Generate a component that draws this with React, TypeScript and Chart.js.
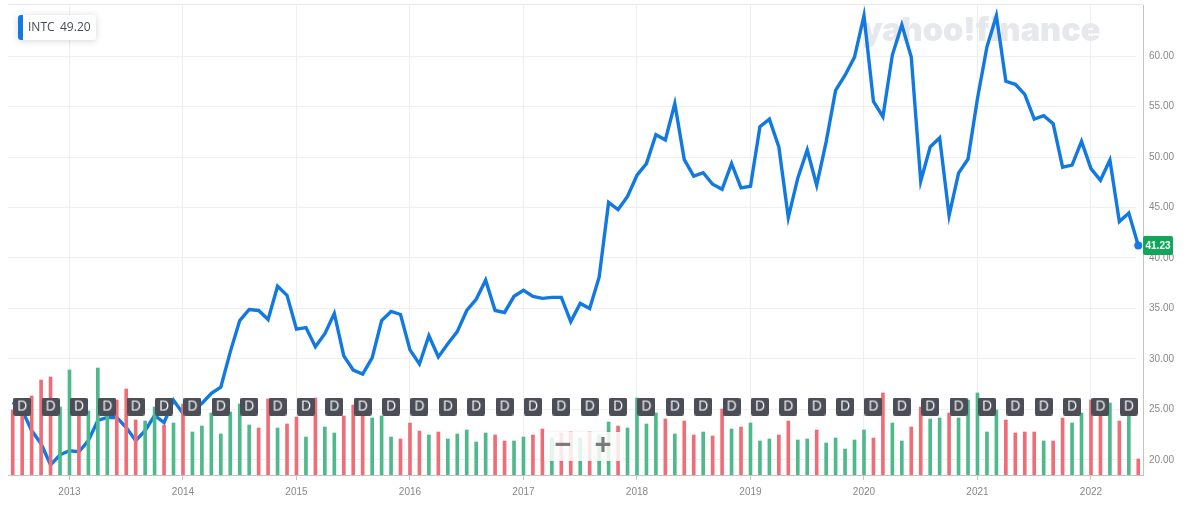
import { useEffect, useRef } from 'react';
import { Chart, registerables } from 'chart.js';

Chart.register(...registerables);

const ticker = 'INTC';
const legendPrice = '49.20';

const months = [
  '2012-07', '2012-08', '2012-09', '2012-10', '2012-11', '2012-12', '2013-01', '2013-02', '2013-03', '2013-04', '2013-05', '2013-06',
  '2013-07', '2013-08', '2013-09', '2013-10', '2013-11', '2013-12', '2014-01', '2014-02', '2014-03', '2014-04', '2014-05', '2014-06',
  '2014-07', '2014-08', '2014-09', '2014-10', '2014-11', '2014-12', '2015-01', '2015-02', '2015-03', '2015-04', '2015-05', '2015-06',
  '2015-07', '2015-08', '2015-09', '2015-10', '2015-11', '2015-12', '2016-01', '2016-02', '2016-03', '2016-04', '2016-05', '2016-06',
  '2016-07', '2016-08', '2016-09', '2016-10', '2016-11', '2016-12', '2017-01', '2017-02', '2017-03', '2017-04', '2017-05', '2017-06',
  '2017-07', '2017-08', '2017-09', '2017-10', '2017-11', '2017-12', '2018-01', '2018-02', '2018-03', '2018-04', '2018-05', '2018-06',
  '2018-07', '2018-08', '2018-09', '2018-10', '2018-11', '2018-12', '2019-01', '2019-02', '2019-03', '2019-04', '2019-05', '2019-06',
  '2019-07', '2019-08', '2019-09', '2019-10', '2019-11', '2019-12', '2020-01', '2020-02', '2020-03', '2020-04', '2020-05', '2020-06',
  '2020-07', '2020-08', '2020-09', '2020-10', '2020-11', '2020-12', '2021-01', '2021-02', '2021-03', '2021-04', '2021-05', '2021-06',
  '2021-07', '2021-08', '2021-09', '2021-10', '2021-11', '2021-12', '2022-01', '2022-02', '2022-03', '2022-04', '2022-05', '2022-06',
];

const closes = [
  25.7, 24.9, 22.9, 21.6, 19.5, 20.5, 20.9, 20.8, 21.9, 23.9, 24.2, 24.2,
  23.2, 21.9, 22.9, 24.4, 23.7, 25.9, 24.6, 25.0, 25.6, 26.6, 27.2, 30.7,
  33.8, 34.9, 34.8, 33.9, 37.2, 36.3, 32.95, 33.1, 31.2, 32.5, 34.5, 30.3,
  28.9, 28.5, 30.1, 33.8, 34.7, 34.4, 30.9, 29.5, 32.3, 30.2, 31.5, 32.7,
  34.8, 35.9, 37.8, 34.8, 34.6, 36.2, 36.8, 36.2, 36.0, 36.1, 36.1, 33.7,
  35.5, 35.0, 38.1, 45.5, 44.8, 46.1, 48.2, 49.35, 52.2, 51.7, 55.3, 49.75,
  48.1, 48.45, 47.3, 46.8, 49.35, 46.95, 47.1, 53.0, 53.75, 51.0, 44.0, 47.9,
  50.7, 47.2, 51.5, 56.6, 58.1, 59.9, 64.0, 55.5, 54.0, 60.1, 63.1, 59.9,
  47.6, 51.0, 51.9, 44.2, 48.4, 49.8, 55.8, 60.9, 64.0, 57.5, 57.2, 56.2,
  53.75, 54.1, 53.3, 49.0, 49.2, 51.55, 48.85, 47.7, 49.7, 43.6, 44.45, 41.23,
];

const volumes = [
  650, 670, 790, 950, 980, 680, 1050, 590, 640, 1070, 630, 750,
  860, 550, 540, 680, 500, 520, 710, 430, 490, 620, 410, 630,
  710, 500, 470, 760, 470, 510, 580, 380, 770, 480, 420, 590,
  700, 650, 570, 590, 380, 360, 520, 440, 400, 430, 360, 410,
  450, 330, 420, 400, 340, 340, 380, 400, 460, 370, 420, 430,
  370, 430, 400, 530, 490, 470, 770, 510, 620, 560, 410, 540,
  400, 430, 390, 660, 460, 480, 520, 340, 360, 400, 540, 350,
  360, 450, 320, 370, 260, 350, 450, 370, 820, 520, 340, 480,
  680, 560, 570, 620, 570, 750, 820, 430, 650, 550, 420, 430,
  430, 340, 340, 570, 520, 620, 750, 630, 720, 540, 620, 160,
];

// 1 = up month (green), 0 = down month (red)
const volumeUp = [
  0, 0, 0, 0, 0, 1, 1, 0, 1, 1, 1, 0,
  0, 0, 1, 1, 0, 1, 0, 1, 1, 1, 1, 1,
  1, 1, 0, 0, 1, 0, 0, 1, 0, 1, 1, 0,
  0, 0, 1, 1, 1, 0, 0, 0, 1, 0, 1, 1,
  1, 1, 1, 0, 0, 1, 1, 0, 0, 1, 0, 0,
  1, 0, 1, 1, 0, 1, 1, 1, 1, 0, 1, 0,
  0, 1, 0, 0, 1, 0, 1, 1, 1, 0, 0, 1,
  1, 0, 1, 1, 1, 1, 1, 0, 0, 1, 1, 0,
  0, 1, 1, 0, 1, 1, 1, 1, 1, 0, 0, 0,
  0, 1, 0, 0, 1, 1, 0, 0, 1, 0, 1, 0,
];

const dividendMonths = [
  '2012-08', '2012-11', '2013-02', '2013-05', '2013-08', '2013-11', '2014-02', '2014-05',
  '2014-08', '2014-11', '2015-02', '2015-05', '2015-08', '2015-11', '2016-02', '2016-05',
  '2016-08', '2016-11', '2017-02', '2017-05', '2017-08', '2017-11', '2018-02', '2018-05',
  '2018-08', '2018-11', '2019-02', '2019-05', '2019-08', '2019-11', '2020-02', '2020-05',
  '2020-08', '2020-11', '2021-02', '2021-05', '2021-08', '2021-11', '2022-02', '2022-05',
];
const dividendLevel = 25.28;

const FONT = '"Liberation Sans", Arial, sans-serif';
const BLUE = '#1279e0';

function dividendBadge() {
  const c = document.createElement('canvas');
  c.width = 18;
  c.height = 18;
  const g = c.getContext('2d')!;
  g.fillStyle = '#4b4e57';
  g.beginPath();
  g.roundRect(0, 0, 18, 18, 2);
  g.fill();
  g.fillStyle = '#fff';
  g.font = `14px "Open Sans", sans-serif`;
  g.textAlign = 'center';
  g.textBaseline = 'middle';
  g.fillText('D', 9, 9.5);
  return c;
}

const watermark = {
  id: 'watermark',
  beforeDatasetsDraw(chart: any) {
    const { ctx, chartArea } = chart;
    ctx.save();
    // grid stops a little short of the axis
    ctx.fillStyle = '#fff';
    ctx.fillRect(chartArea.right - 7, chartArea.top, 6.5, chartArea.bottom - chartArea.top - 1);
    ctx.strokeStyle = '#e8e8e8';
    ctx.beginPath();
    ctx.moveTo(chartArea.left, chartArea.top - 0.5);
    ctx.lineTo(chartArea.right, chartArea.top - 0.5);
    ctx.stroke();
    ctx.fillStyle = '#e6e8ec';
    ctx.font = `900 32.5px Inter, ${FONT}`;
    ctx.textBaseline = 'alphabetic';
    ctx.fillText('yahoo!finance', 862, 41);
    ctx.restore();
  },
};

const overlays = {
  id: 'overlays',
  afterDraw(chart: any) {
    const { ctx } = chart;
    const yScale = chart.scales.y;
    const last = closes[closes.length - 1];
    const lastY = yScale.getPixelForValue(last);

    ctx.save();
    // last price tag
    ctx.fillStyle = '#10a75a';
    ctx.beginPath();
    ctx.roundRect(1143, lastY - 9.5, 30, 19, 2);
    ctx.fill();
    ctx.fillStyle = '#fff';
    ctx.font = `bold 10px ${FONT}`;
    ctx.textAlign = 'center';
    ctx.textBaseline = 'middle';
    ctx.fillText(last.toFixed(2), 1158, lastY + 0.5);

    // legend chip
    ctx.save();
    ctx.shadowColor = 'rgba(0,0,0,0.16)';
    ctx.shadowBlur = 7;
    ctx.shadowOffsetY = 1;
    ctx.fillStyle = '#fff';
    ctx.beginPath();
    ctx.roundRect(18, 15, 78, 25, 2);
    ctx.fill();
    ctx.restore();
    ctx.fillStyle = BLUE;
    ctx.beginPath();
    ctx.roundRect(18, 15, 5, 25, [3, 0, 0, 3]);
    ctx.fill();
    ctx.fillStyle = '#464b55';
    ctx.font = '12px "Open Sans", sans-serif';
    ctx.textAlign = 'left';
    ctx.fillText(ticker, 28, 28);
    ctx.fillText(legendPrice, 60, 28);

    // zoom buttons
    ctx.save();
    ctx.shadowColor = 'rgba(0,0,0,0.10)';
    ctx.shadowBlur = 3;
    ctx.fillStyle = 'rgba(255,255,255,0.86)';
    ctx.fillRect(544, 432, 79, 29);
    ctx.restore();
    ctx.fillStyle = '#7a7a7a';
    ctx.font = `bold 29px ${FONT}`;
    ctx.textAlign = 'center';
    ctx.fillText('\u2212', 563, 446);
    ctx.fillText('+', 603, 446);
    ctx.restore();
  },
};

export default function App() {
  const canvasRef = useRef<HTMLCanvasElement | null>(null);

  useEffect(() => {
    if (!canvasRef.current) return;
    const badge = dividendBadge();
    const chart = new Chart(canvasRef.current, {
      type: 'bar',
      data: {
        labels: months,
        datasets: [
          {
            type: 'line',
            label: 'Dividends',
            data: dividendMonths.map(m => ({ x: m, y: dividendLevel })),
            showLine: false,
            pointStyle: badge,
            pointRadius: 9,
            yAxisID: 'y',
            order: 0,
            clip: false,
          },
          {
            type: 'bar',
            label: 'Volume',
            data: volumes,
            backgroundColor: volumeUp.map(u => (u ? '#4eb98a' : '#ef6d77')),
            barThickness: 3,
            yAxisID: 'vol',
            order: 1,
          },
          {
            type: 'line',
            label: ticker,
            data: closes,
            borderColor: BLUE,
            backgroundColor: '#1a78e8',
            borderWidth: 3.4,
            tension: 0,
            pointRadius: (ctx: any) => (ctx.dataIndex === closes.length - 1 ? 4 : 0),
            pointBorderWidth: 0,
            yAxisID: 'y',
            order: 2,
            clip: false,
          },
        ],
      } as any,
      options: {
        animation: false,
        responsive: false,
        events: [],
        layout: { autoPadding: false, padding: { left: 8, top: 5, right: 0, bottom: 0 } },
        plugins: { legend: { display: false }, tooltip: { enabled: false } },
        scales: {
          x: {
            type: 'category',
            offset: true,
            grid: { offset: false, color: '#efefef', tickColor: '#c4c4c4', tickLength: 5 },
            border: { color: '#c4c4c4' },
            afterBuildTicks: (scale: any) => {
              scale.ticks = scale.ticks.filter((t: any) => months[t.value].endsWith('-01'));
            },
            ticks: {
              autoSkip: false,
              maxRotation: 0,
              padding: 6,
              color: '#888',
              font: { family: FONT, size: 10 },
              callback: (value: any) => months[value].slice(0, 4),
            },
            afterFit: (scale: any) => {
              scale.height = 31;
              scale.paddingLeft = 0;
              scale.paddingRight = 0;
            },
          },
          y: {
            position: 'right',
            min: 18.5,
            max: 65.06,
            grid: { color: '#efefef', drawTicks: false },
            border: { color: '#c4c4c4' },
            afterBuildTicks: (scale: any) => {
              scale.ticks = scale.ticks.filter((t: any) => t.value <= 60);
            },
            ticks: {
              stepSize: 5,
              includeBounds: false,
              padding: 6,
              color: '#888',
              font: { family: FONT, size: 10 },
              callback: (value: any) => Number(value).toFixed(2),
            },
            afterFit: (scale: any) => {
              scale.width = 43;
              scale.paddingTop = 0;
              scale.paddingBottom = 0;
            },
          },
          vol: { display: false, min: 0, max: 4700 },
        },
      } as any,
      plugins: [watermark, overlays],
    });
    return () => chart.destroy();
  }, []);

  return (
    <div style={{ position: 'absolute', left: 0, top: 0, width: 1186, height: 506, background: '#fff' }}>
      <canvas ref={canvasRef} width={1186} height={506} />
    </div>
  );
}
